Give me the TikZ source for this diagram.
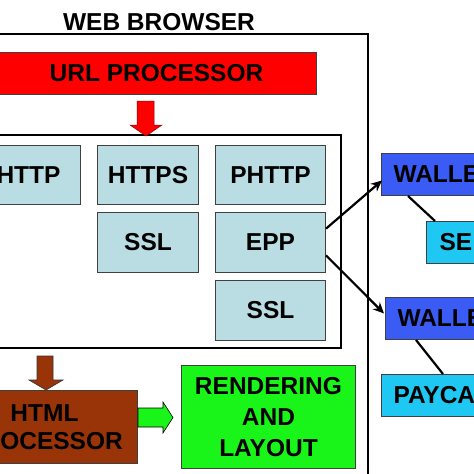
\documentclass[tikz,border=0pt]{standalone}
\usepackage{fontspec}
\setmainfont{Liberation Sans}
\usepackage{tikz}
\usetikzlibrary{arrows.meta,calc}

\definecolor{protofill}{RGB}{185,221,226}
\definecolor{urlred}{RGB}{255,0,0}
\definecolor{htmlbrown}{RGB}{153,52,8}
\definecolor{rendergreen}{RGB}{25,245,25}
\definecolor{walletblue}{RGB}{58,92,245}
\definecolor{clientcyan}{RGB}{30,200,242}

\tikzset{
	txt/.style={font=\fontsize{24.5}{28}\selectfont\bfseries},
	box/.style={txt, draw=black!75, line width=1pt, anchor=north west, inner sep=0pt, align=center},
	proto/.style={box, fill=protofill},
	wal/.style={box, fill=walletblue, minimum height=42pt, text width=110pt, inner xsep=12pt, align=left},
	cli/.style={box, fill=clientcyan, minimum height=42pt, text width=110pt, inner xsep=12pt, align=left},
	link/.style={line width=2.2pt, -{Stealth[length=11pt,width=10pt]}}
}

\begin{document}
\begin{tikzpicture}[x=1pt, y=-1pt]
	\useasboundingbox (0,0) rectangle (474,474);
	\clip (0,0) rectangle (474,474);
	\fill[white] (0,0) rectangle (474,474);

	% browser frame
	\node[txt, anchor=base] (title) at (159,30) {WEB BROWSER};
	\draw[line width=2.4pt] (-50,34) rectangle (368,530);

	\node[box, fill=urlred, minimum width=320pt, minimum height=42pt] (url) at (-4,52) {URL PROCESSOR};

	% protocols
	\draw[line width=2pt] (-40,135) rectangle (341,348);
	\node[proto, minimum width=104pt, minimum height=59pt] (http) at (-24,145) {HTTP};
	\node[proto, minimum width=101pt, minimum height=59pt] (https) at (97,145) {HTTPS};
	\node[proto, minimum width=110pt, minimum height=59pt] (phttp) at (215,145) {PHTTP};
	\node[proto, minimum width=101pt, minimum height=60pt] (ssla) at (97,212) {SSL};
	\node[proto, minimum width=110pt, minimum height=60pt] (epp) at (215,212) {EPP};
	\node[proto, minimum width=110pt, minimum height=60pt] (sslb) at (215,280) {SSL};

	\node[box, fill=htmlbrown, minimum width=186pt, minimum height=73pt, font=\fontsize{24.5}{28}\selectfont\bfseries] (html) at (-49,390) {HTML\\PROCESSOR};
	\node[box, fill=rendergreen, minimum width=174pt, minimum height=103pt, font=\fontsize{24.5}{31}\selectfont\bfseries] (render) at (181,365) {RENDERING\\AND\\LAYOUT};

	% block arrows
	\filldraw[fill=urlred, draw=red!60!black, line width=0.5pt] (137,101) -- (154,101) -- (154,125) -- (162,125) -- (146,136) -- (130,125) -- (137,125) -- cycle;
	\filldraw[fill=htmlbrown, draw=black!80, line width=0.6pt] (37,356) -- (53,356) -- (53,380) -- (63,380) -- (46,390) -- (29,380) -- (37,380) -- cycle;
	\filldraw[fill=rendergreen, draw=black, line width=0.6pt] (138,408) -- (163,408) -- (163,402) -- (173,417.5) -- (163,433) -- (163,427) -- (138,427) -- cycle;

	% wallets
	\node[wal] (walleta) at (381,153) {WALLE};
	\node[cli, inner xsep=13pt] (se) at (426,221) {SE};
	\node[wal] (walletb) at (385,297) {WALLE};
	\node[cli] (payca) at (381,374) {PAYCA};

	\draw[link] (epp.14) -- ($(walleta.west)+(1,6)$);
	\draw[link] (epp.-13) -- ($(walletb.west)+(-1,-5)$);
	\draw[line width=2.2pt] ($(walleta.south west)+(27,0)$) -- ($(se.north west)+(9,0)$);
	\draw[line width=2.2pt] ($(walletb.south west)+(31,0)$) -- ($(payca.north west)+(62,0)$);
\end{tikzpicture}
\end{document}
